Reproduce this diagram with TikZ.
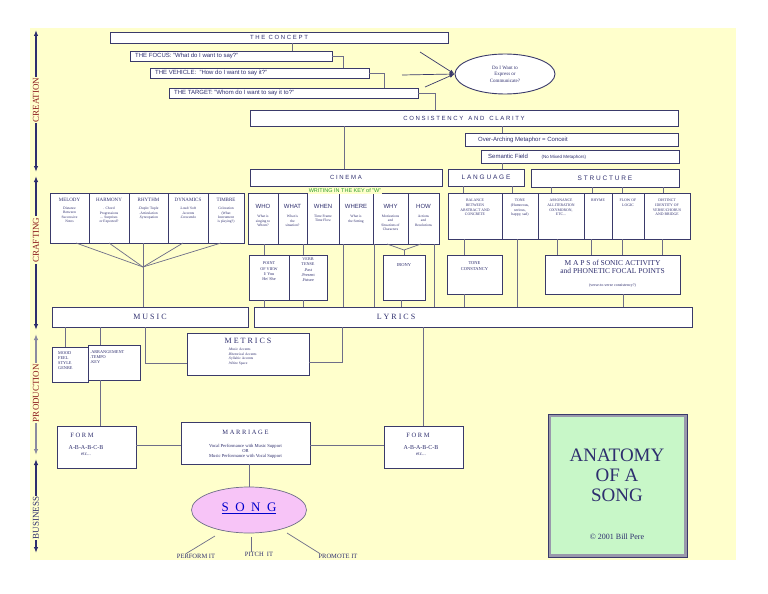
\documentclass[tikz,border=0pt]{standalone}
\usepackage{fontspec}
\setmainfont{Liberation Serif}
\setsansfont{Liberation Sans}
\usetikzlibrary{shapes.geometric,arrows.meta}
\definecolor{bgy}{HTML}{FFFFCC}
\definecolor{navy}{HTML}{2E2E6E}
\definecolor{bc}{HTML}{3A3A6A}
\definecolor{cn}{HTML}{6E6E88}
\definecolor{redb}{HTML}{8B1A1A}
\definecolor{pinkf}{HTML}{F7C4F7}
\definecolor{greenf}{HTML}{C8F7C8}
\definecolor{wgreen}{HTML}{2E9E2E}
\newcommand\bx[5]{\node[box,anchor=north west,minimum width={(#4)-(#2)},minimum height={(#5)-(#3)}] (#1) at (#2,#3) {};}
\newcommand\fs[1]{\fontsize{#1}{#1}\selectfont}
\begin{document}
\begin{tikzpicture}[x=1pt,y=-1pt,
  box/.style={draw=bc,fill=white,line width=0.9pt,inner sep=0pt,outer sep=0pt},
  conn/.style={draw=cn,line width=0.7pt},
  tx/.style={text=navy,inner sep=0pt,align=center},
  tiny/.style={tx,font=\fs{3.6}\linespread{1.2}\selectfont},
  hd/.style={tx,font=\sffamily\fs{6.5}},
  sp/.style={tx,font=\sffamily\fs{6}},
  axl/.style={line width=1.6pt},
  axlab/.style={rotate=90,fill=bgy,inner sep=1pt,font=\fs{9}}]
\useasboundingbox (0,0) rectangle (768,594);
\fill[white] (0,0) rectangle (768,594);
\fill[bgy] (30,28) rectangle (736,560);
% left axis
\draw[axl,navy,{Latex[length=6pt]}-{Latex[length=6pt]}] (36,30) -- (36,172);
\node[axlab,text=redb] (lc) at (36,100) {CREATION};
\draw[axl,navy,{Latex[length=6pt]}-{Latex[length=6pt]}] (36,176) -- (36,330);
\node[axlab,text=redb] (lk) at (36,240) {CRAFTING};
\draw[axl,cn!80,{Latex[length=6pt]}-{Latex[length=6pt]}] (36,334) -- (36,455);
\node[axlab,text=redb] (lp) at (36,393) {PRODUCTION};
\draw[axl,navy,{Latex[length=6pt]}-{Latex[length=6pt]}] (36,459) -- (36,553);
\node[axlab,text=navy] (lb) at (36,518) {BUSINESS};
% creation boxes
\bx{concept}{110}{32}{448}{43}
\node[sp] at (concept.center) {T H E \ C O N C E P T};
\bx{focus}{130}{51}{332}{61}
\node[sp,anchor=west] at ([xshift=5pt]focus.west) {THE FOCUS: "What do I want to say?"};
\bx{vehicle}{150}{68}{369}{78}
\node[sp,anchor=west] at ([xshift=5pt]vehicle.west) {THE VEHICLE: \ "How do I want to say it?"};
\bx{target}{169}{88}{418}{98}
\node[sp,anchor=west] at ([xshift=5pt]target.west) {THE TARGET: "Whom do I want to say it to?"};
\node[draw=bc,fill=white,line width=0.9pt,ellipse,minimum width=100,minimum height=40,tiny,font=\fs{5}\linespread{1.3}\selectfont] (express) at (505,74) {Do I Want to\\Express or\\Communicate?};
\draw[conn] (292,0 |- concept.south) -- (292,0 |- focus.north);
\draw[conn] (focus.east) -| (343,0 |- vehicle.north);
\draw[conn] (vehicle.east) -| (384,0 |- target.north);
\coordinate (a1) at (420,52); \coordinate (a2) at (402,75); \coordinate (a3) at (425,87);
\draw[conn,bc,-{Latex[length=5pt]}] (a1) -- (express.west);
\draw[conn,bc,-{Latex[length=5pt]}] (a2) -- (express.west);
\draw[conn,bc,-{Latex[length=5pt]}] (a3) -- (express.west);
% consistency etc
\bx{cons}{250}{110}{678}{126}
\node[sp] at (cons.center) {C O N S I S T E N C Y \ \ A N D \ \ C L A R I T Y};
\draw[conn] (target.east) -| (435,0 |- cons.north);
\bx{meta}{465}{133}{678}{146}
\node[sp,anchor=west] at ([xshift=13pt]meta.west) {Over-Arching Metaphor = Conceit};
\bx{sem}{481}{150}{679}{163}
\node[sp,anchor=west] at ([xshift=7pt]sem.west) {Semantic Field \qquad {\fs{4.5}(No Mixed Metaphors)}};
\draw[conn] (502,0 |- cons.south) -- (502,0 |- meta.north);
\bx{cinema}{250}{169}{442}{186}
\node[sp] at (cinema.center) {C I N E M A};
\bx{lang}{448}{169}{524}{186}
\node[hd] at (lang.center) {L A N G U A G E};
\bx{struct}{531}{169}{679}{187}
\node[hd] at (struct.center) {S T R U C T U R E};
\draw[conn] (344,0 |- cons.south) -- (344,0 |- cinema.north);
\draw[conn] (502,0 |- sem.south) -- (502,0 |- lang.north);
% music row
\bx{mrow}{50}{193}{244}{243}
\foreach \xx in {89,129,168,208} \draw[bc,line width=0.9pt] (\xx,193) -- (\xx,243);
\foreach \cx/\h/\b in {69.5/MELODY/{Distance\\Between\\Successive\\Notes},109/HARMONY/{. Chord\\Progressions\\... Surprises\\or Expected?},148.5/RHYTHM/{.Duple/ Tuple\\.Articulation\\.Syncopation},188/DYNAMICS/{.Loud/ Soft\\.Accents\\.Crescendo},226/TIMBRE/{Coloration\\(What\\Instrument\\is playing?)}}{
  \node[tx,font=\fs{5}] at (\cx,200) {\h};
  \node[tiny,anchor=north] at (\cx,207) {\b};}
% W row
\bx{wrow}{248}{193}{439}{244}
\foreach \xx in {278,307,339,373,408} \draw[bc,line width=0.9pt] (\xx,193) -- (\xx,244);
\node[tx,font=\sffamily\fs{5.5},text=wgreen,fill=bgy,inner sep=1pt] (wkey) at (345,191) {WRITING IN THE KEY of "W"};
\foreach \cx/\h/\b in {263/WHO/{What is\\singing to\\Whom?},292.5/WHAT/{What is\\the\\situation?},323/WHEN/{Time Frame\\Time Flow},356/WHERE/{What is\\the Setting},390.5/WHY/{Motivations\\and\\Situations of\\Characters},423.5/HOW/{Actions\\and\\Resolutions}}{
  \node[tx,font=\sffamily\fs{6}] at (\cx,206) {\h};
  \node[tiny,anchor=north] at (\cx,215) {\b};}
% language row
\bx{lrow}{448}{193}{690}{239}
\foreach \xx in {502,538,584,612,644} \draw[bc,line width=0.9pt] (\xx,193) -- (\xx,239);
\foreach \cx/\b in {475/{BALANCE\\BETWEEN\\ABSTRACT AND\\CONCRETE},520/{TONE\\(Humorous,\\serious,\\happy, sad)},561/{ASSONANCE\\ALLITERATION\\OXYMORON,\\ETC...},598/{RHYME},628/{FLOW OF\\LOGIC},667/{DISTINCT\\IDENTITY OF\\VERSE/CHORUS\\AND BRIDGE}}{
  \node[tiny,anchor=north,font=\fs{3.8}\linespread{1.25}\selectfont] at (\cx,199) {\b};}
\foreach \xx in {463,512} \draw[conn] (\xx,0 |- lang.south) -- (\xx,0 |- lrow.north);
\foreach \xx in {551,592,622,663} \draw[conn] (\xx,0 |- struct.south) -- (\xx,0 |- lrow.north);
% second level
\bx{pov}{249}{255}{289}{300}
\node[tiny,anchor=north,font=\fs{4.2}\linespread{1.2}\selectfont] at (269,262) {POINT\\OF VIEW\\I/ You\\He/ She};
\bx{verb}{289}{255}{327}{300}
\node[tiny,anchor=north,font=\fs{4.2}\linespread{1.2}\selectfont] at (308,258) {VERB\\TENSE\\.Past\\.Present\\.Future};
\bx{irony}{383}{255}{425}{300}
\node[tiny,font=\fs{4.5}] at (404,265) {IRONY};
\bx{tonec}{447}{255}{502}{294}
\node[tiny,anchor=north,font=\fs{4.5}\linespread{1.3}\selectfont] at (474.5,261) {TONE\\CONSTANCY};
\bx{maps}{545}{255}{680}{294}
\node[tx,anchor=north,font=\fs{7.5}\linespread{1.1}\selectfont] at (612.5,260) {M A P S of SONIC ACTIVITY\\and PHONETIC FOCAL POINTS};
\node[tiny,font=\fs{4}] at (612.5,286) {(verse-to-verse consistency?)};
% MUSIC / LYRICS
\bx{music}{52}{307}{248}{327}
\node[tx,font=\fs{8}] at (music.center) {M U S I C};
\bx{lyrics}{254}{307}{692}{327}
\node[tx,font=\fs{8}] at (396,317) {L Y R I C S};
\coordinate (mc) at (143,267);
\foreach \xx in {76,109,183,221} \draw[conn] (\xx,0 |- mrow.south) -- (mc);
\draw[conn] (143,0 |- mrow.south) -- (143,0 |- music.north);
\draw[conn] (264,0 |- wrow.south) -- (264,0 |- pov.north);
\draw[conn] (264,0 |- pov.south) -- (264,0 |- lyrics.north);
\draw[conn] (303,0 |- wrow.south) -- (303,0 |- verb.north);
\draw[conn] (303,0 |- verb.south) -- (303,0 |- lyrics.north);
\draw[conn] (343,0 |- wrow.south) -- (343,0 |- lyrics.north);
\draw[conn] (374,0 |- wrow.south) -- (374,0 |- lyrics.north);
\coordinate (iv) at (404,250);
\draw[conn] (387,0 |- wrow.south) -- (iv) -- (421,0 |- wrow.south);
\draw[conn] (iv) -- (irony.north);
\draw[conn] (401,0 |- irony.south) -- (401,0 |- lyrics.north);
\draw[conn] (434,0 |- wrow.south) -- (434,0 |- lyrics.north);
\draw[conn] (464,0 |- lrow.south) -- (464,0 |- tonec.north);
\draw[conn] (464,0 |- tonec.south) -- (464,0 |- lyrics.north);
\draw[conn] (517,0 |- lrow.south) -- (517,0 |- lyrics.north);
\foreach \xx in {557,591,622,662} \draw[conn] (\xx,0 |- lrow.south) -- (\xx,0 |- maps.north);
\draw[conn] (623,0 |- maps.south) -- (623,0 |- lyrics.north);
% production
\bx{mood}{52}{347}{88}{382}
\node[tiny,anchor=north west,align=left,font=\fs{4.3}\linespread{1.2}\selectfont] at (58,351) {MOOD\\FEEL\\STYLE\\GENRE};
\bx{arr}{88}{345}{140}{380}
\node[tiny,anchor=north west,align=left,font=\fs{4.3}\linespread{1.2}\selectfont] at (90,350) {.ARRANGEMENT\\.TEMPO\\.KEY};
\bx{metrics}{187}{333}{309}{375}
\node[tx,font=\fs{8}] at (248,341) {M E T R I C S};
\node[tiny,anchor=north west,align=left,font=\fs{3.6}\linespread{1.3}\selectfont] at (228,348) {.Music Accents\\.Rhetorical Accents\\.Syllabic Accents\\.White Space};
\draw[conn] (65,0 |- music.south) -- (65,0 |- mood.north);
\draw[conn] (100,0 |- music.south) -- (100,0 |- arr.north);
\draw[conn] (145,0 |- music.south) |- (metrics.west |- 0,363);
\draw[conn] (342,0 |- lyrics.south) |- (metrics.east |- 0,362);
% form / marriage
\bx{forml}{57}{426}{136}{468}
\node[tx,font=\fs{6.5}] at (82,435) {F O R M};
\node[tx,font=\fs{6}\linespread{1}\selectfont] at (86,451) {A-B-A-B-C-B\\{\fs{5}etc...}};
\bx{marriage}{181}{422}{310}{464}
\node[tx,font=\fs{6.5}] at (245.5,432) {M A R R I A G E};
\node[tx,font=\fs{4.6}\linespread{1.1}\selectfont] at (245.5,451) {Vocal Performance with Music Support\\OR\\Music Performance with Vocal Support};
\bx{formr}{384}{426}{463}{468}
\node[tx,font=\fs{6.5}] at (418,435) {F O R M};
\node[tx,font=\fs{6}\linespread{1}\selectfont] at (421,451) {A-B-A-B-C-B\\{\fs{5}etc...}};
\draw[conn] (100,0 |- arr.south) -- (100,0 |- forml.north);
\draw[conn] (423,0 |- lyrics.south) -- (423,0 |- formr.north);
\draw[conn] (forml.east |- 0,445) -- (marriage.west |- 0,445);
\draw[conn] (marriage.east |- 0,445) -- (formr.west |- 0,445);
\node[draw=cn,fill=pinkf,line width=0.7pt,ellipse,minimum width=115,minimum height=46,inner sep=0pt] (song) at (249,510) {};
\node[text=blue!80!black,font=\fs{13}] at (249,508) {\underline{S\ \ O\ \ N\ \ G}};
\draw[conn] (marriage.south -| song.north) -- (song.north);
\node[tx,font=\fs{6.5}] (perf) at (196,556) {PERFORM IT};
\node[tx,font=\fs{6.5}] (pitch) at (259,554) {PITCH \ IT};
\node[tx,font=\fs{6.5}] (prom) at (338,556) {PROMOTE IT};
\coordinate (p1) at (215,536); \coordinate (p2) at (251,537); \coordinate (p3) at (287,533);
\draw[conn] (p1) -- ([xshift=-10pt]perf.north);
\draw[conn] (p2) -- (251,0 |- pitch.north);
\draw[conn] (p3) -- ([xshift=-18pt]prom.north);
% anatomy
\node[draw=bc,line width=0.9pt,fill=cn!70,anchor=north west,minimum width=139,minimum height=143,inner sep=0pt] (anat) at (548,414) {};
\node[fill=greenf,anchor=north west,minimum width=133,minimum height=137,inner sep=0pt] (anati) at (551,417) {};
\node[tx,font=\fs{19}\linespread{1.05}\selectfont] at (617,475) {ANATOMY\\OF A\\SONG};
\node[tx,font=\fs{8}] at (617,537) {© 2001 Bill Pere};
\end{tikzpicture}
\end{document}
